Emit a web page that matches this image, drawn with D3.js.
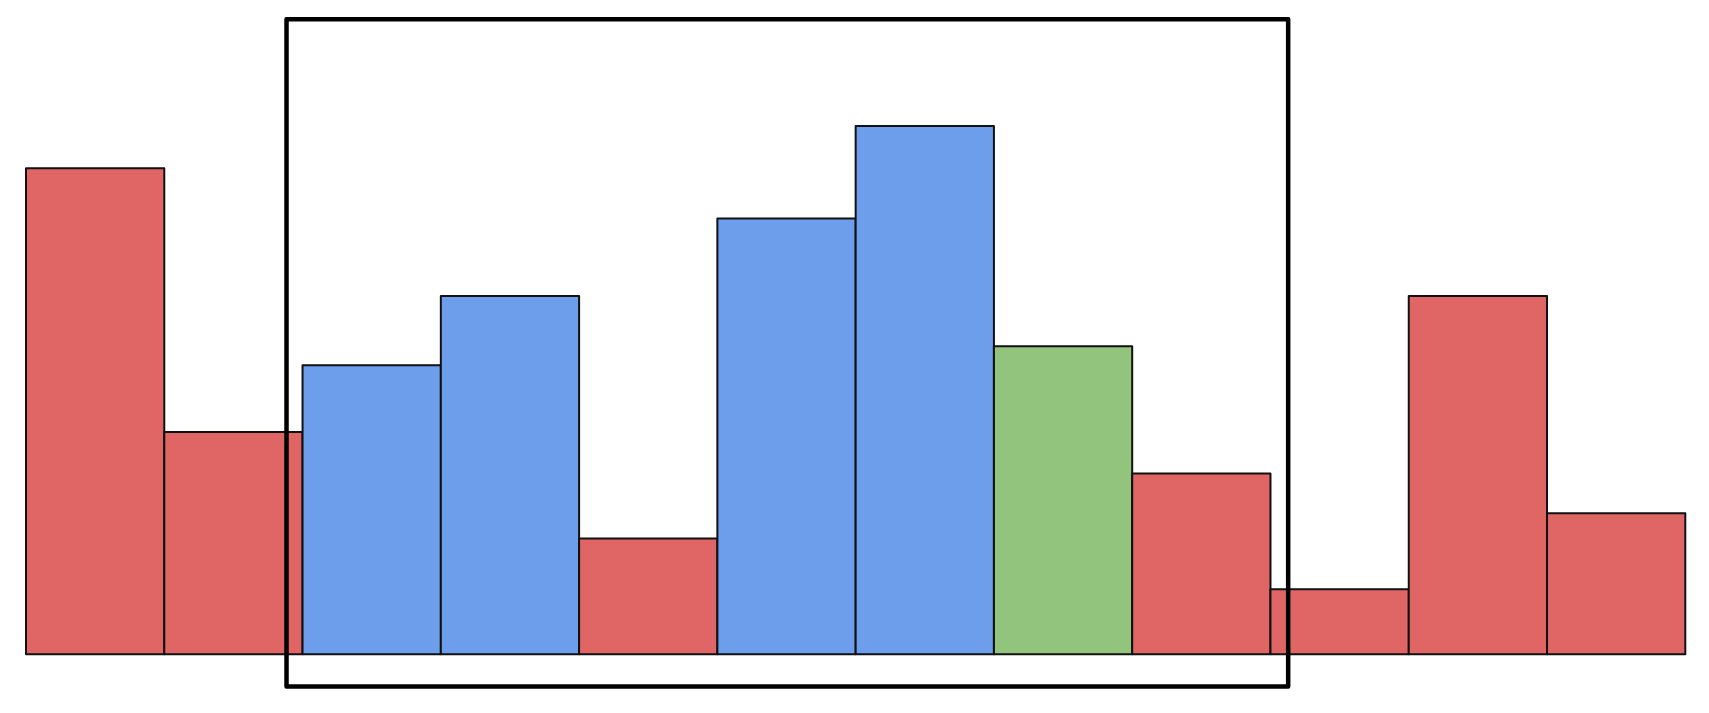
<!DOCTYPE html>
<html>
<head>
<meta charset="utf-8">
<script src="https://cdn.jsdelivr.net/npm/d3@7"></script>
<style>
  html, body { margin: 0; padding: 0; background: #fff; }
  svg { display: block; }
</style>
</head>
<body>
<div id="chart"></div>
<script>
"use strict";

// bar values, left to right
var values = [9.2, 4.21, 5.47, 6.78, 2.19, 8.25, 10, 5.83, 3.42, 1.23, 6.78, 2.67];
// which group each bar belongs to
var groups = ["out", "out", "in", "in", "out", "in", "in", "mid", "out", "out", "out", "out"];
var groupColors = { out: "#e06666", in: "#6d9eeb", mid: "#93c47d" };
// selection frame, in bar index / value units: [x0, x1, yLow, yHigh]
var frame = [1.884, 9.128, -0.61, 12.02];

var width = 1709, height = 713;

var x = d3.scaleLinear()
    .domain([0, values.length])
    .range([26, 1685.3]);
var y = d3.scaleLinear()
    .domain([0, 10])
    .range([654.3, 126]);

var svg = d3.select("#chart").append("svg")
    .attr("width", width)
    .attr("height", height);

svg.selectAll(".bar")
    .data(values)
  .enter().append("rect")
    .attr("class", "bar")
    .attr("x", function(d, i) { return x(i); })
    .attr("width", function(d, i) { return x(i + 1) - x(i); })
    .attr("y", function(d) { return y(d); })
    .attr("height", function(d) { return y(0) - y(d); })
    .attr("fill", function(d, i) { return groupColors[groups[i]]; })
    .attr("stroke", "#111")
    .attr("stroke-width", 2)
    .attr("stroke-linejoin", "round");

// the big outline box
svg.append("rect")
    .attr("x", x(frame[0]))
    .attr("y", y(frame[3]))
    .attr("width", x(frame[1]) - x(frame[0]))
    .attr("height", y(frame[2]) - y(frame[3]))
    .attr("fill", "none")
    .attr("stroke", "#000")
    .attr("stroke-width", 4.5)
    .attr("stroke-linejoin", "round");
</script>
</body>
</html>
